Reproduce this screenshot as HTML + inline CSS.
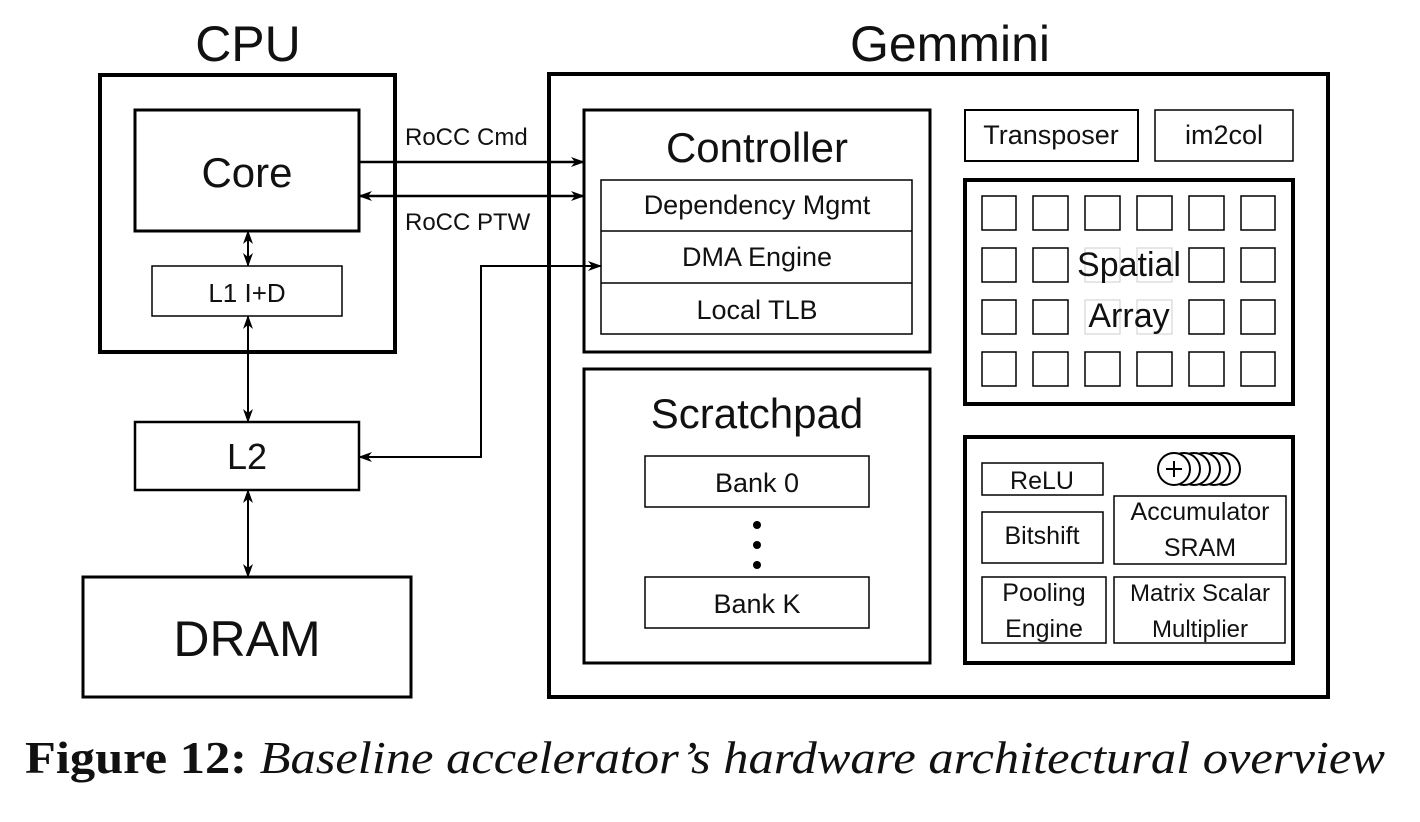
<!DOCTYPE html>
<html><head><meta charset="utf-8"><style>
html,body{margin:0;padding:0;background:#fff;}
svg{display:block;}
text{font-family:"Liberation Sans","DejaVu Sans",sans-serif;fill:#111;}
</style></head><body>
<svg width="1420" height="822" viewBox="0 0 1420 822" xmlns="http://www.w3.org/2000/svg">
<defs>
<marker id="a" markerWidth="14" markerHeight="10" refX="13" refY="5" orient="auto-start-reverse" markerUnits="userSpaceOnUse">
<path d="M0,0 L14,5 L0,10 L4,5 Z" fill="#000"/></marker>
</defs>
<g fill="none" stroke="#000">
<rect x="100" y="75" width="295" height="277" stroke-width="4"/>
<rect x="135" y="110" width="224" height="121" stroke-width="3"/>
<rect x="152" y="266" width="190" height="50" stroke-width="1.5"/>
<rect x="135" y="422" width="224" height="68" stroke-width="2.5"/>
<rect x="83" y="577" width="328" height="120" stroke-width="3"/>
<rect x="549" y="74" width="779" height="623" stroke-width="4"/>
<rect x="584" y="110" width="346" height="242" stroke-width="3"/>
<rect x="601" y="180" width="311" height="154" stroke-width="1.5"/>
<line x1="601" y1="231" x2="912" y2="231" stroke-width="1.5"/>
<line x1="601" y1="283" x2="912" y2="283" stroke-width="1.5"/>
<rect x="584" y="369" width="346" height="294" stroke-width="3"/>
<rect x="645" y="456" width="224" height="51" stroke-width="1.5"/>
<rect x="645" y="577" width="224" height="51" stroke-width="1.5"/>
<rect x="965" y="110" width="173" height="51" stroke-width="2"/>
<rect x="1155" y="110" width="138" height="51" stroke-width="1.5"/>
<rect x="965" y="180" width="328" height="224" stroke-width="4"/>
<rect x="965" y="437" width="328" height="226" stroke-width="4"/>
<rect x="982" y="463" width="121" height="32" stroke-width="1.5"/>
<rect x="982" y="512" width="121" height="51" stroke-width="1.5"/>
<rect x="982" y="577" width="124" height="66" stroke-width="1.5"/>
<rect x="1114" y="496" width="172" height="68" stroke-width="1.5"/>
<rect x="1114" y="577" width="171" height="66" stroke-width="1.5"/>
<g stroke-width="1.5">
<rect x="982" y="196" width="34" height="34"/><rect x="1033" y="196" width="35" height="34"/><rect x="1085" y="196" width="35" height="34"/><rect x="1137" y="196" width="35" height="34"/><rect x="1189" y="196" width="35" height="34"/><rect x="1241" y="196" width="34" height="34"/>
<rect x="982" y="248" width="34" height="34"/><rect x="1033" y="248" width="35" height="34"/><rect x="1189" y="248" width="35" height="34"/><rect x="1241" y="248" width="34" height="34"/>
<rect x="982" y="300" width="34" height="34"/><rect x="1033" y="300" width="35" height="34"/><rect x="1189" y="300" width="35" height="34"/><rect x="1241" y="300" width="34" height="34"/>
<rect x="982" y="352" width="34" height="34"/><rect x="1033" y="352" width="35" height="34"/><rect x="1085" y="352" width="35" height="34"/><rect x="1137" y="352" width="35" height="34"/><rect x="1189" y="352" width="35" height="34"/><rect x="1241" y="352" width="34" height="34"/>
</g>
<g stroke="#ccc" stroke-width="1"><rect x="1085" y="248" width="35" height="34"/><rect x="1137" y="248" width="35" height="34"/><rect x="1085" y="300" width="35" height="34"/><rect x="1137" y="300" width="35" height="34"/></g>
<g stroke-width="2" fill="#fff">
<circle cx="1224" cy="469" r="16"/><circle cx="1214" cy="469" r="16"/><circle cx="1204" cy="469" r="16"/><circle cx="1194" cy="469" r="16"/><circle cx="1184" cy="469" r="16"/><circle cx="1174" cy="469" r="16"/>
</g>
<path d="M1166,469 H1182 M1174,461 V477" stroke-width="2"/>
<g stroke-width="2.5">
<line x1="359" y1="162" x2="584" y2="162" marker-end="url(#a)"/>
<line x1="359" y1="196" x2="584" y2="196" marker-start="url(#a)" marker-end="url(#a)"/>
<polyline points="359,457 481,457 481,266 601,266" marker-start="url(#a)" marker-end="url(#a)" stroke-width="2"/>
<line x1="248" y1="231" x2="248" y2="266" marker-start="url(#a)" marker-end="url(#a)" stroke-width="2"/>
<line x1="248" y1="316" x2="248" y2="422" marker-start="url(#a)" marker-end="url(#a)" stroke-width="2"/>
<line x1="248" y1="490" x2="248" y2="577" marker-start="url(#a)" marker-end="url(#a)" stroke-width="2"/>
</g>
</g>
<g fill="#000"><circle cx="757" cy="525" r="4"/><circle cx="757" cy="545" r="4"/><circle cx="757" cy="565" r="4"/></g>
<g text-anchor="middle">
<text x="248" y="61" font-size="50">CPU</text>
<text x="950" y="61" font-size="50">Gemmini</text>
<text x="247" y="187" font-size="42">Core</text>
<text x="247" y="302" font-size="26">L1 I+D</text>
<text x="247" y="469" font-size="36">L2</text>
<text x="247" y="656" font-size="50">DRAM</text>
<text x="757" y="162" font-size="42">Controller</text>
<text x="757" y="214" font-size="27">Dependency Mgmt</text>
<text x="757" y="266" font-size="27">DMA Engine</text>
<text x="757" y="319" font-size="27">Local TLB</text>
<text x="757" y="428" font-size="42">Scratchpad</text>
<text x="757" y="492" font-size="27">Bank 0</text>
<text x="757" y="613" font-size="27">Bank K</text>
<text x="1051" y="144" font-size="27">Transposer</text>
<text x="1224" y="144" font-size="27">im2col</text>
<text x="1129" y="276" font-size="34">Spatial</text>
<text x="1129" y="327" font-size="34">Array</text>
<text x="1042" y="489" font-size="25">ReLU</text>
<text x="1042" y="544" font-size="25">Bitshift</text>
<text x="1044" y="601" font-size="25">Pooling</text>
<text x="1044" y="637" font-size="25">Engine</text>
<text x="1200" y="520" font-size="25">Accumulator</text>
<text x="1200" y="556" font-size="25">SRAM</text>
<text x="1200" y="601" font-size="24">Matrix Scalar</text>
<text x="1200" y="637" font-size="24">Multiplier</text>
</g>
<text x="405" y="145" font-size="24">RoCC Cmd</text>
<text x="405" y="230" font-size="24">RoCC PTW</text>
<text x="25" y="773" font-size="46" textLength="1360" lengthAdjust="spacingAndGlyphs" style="font-family:'Liberation Serif',serif"><tspan font-weight="bold">Figure 12:</tspan> <tspan font-style="italic">Baseline accelerator’s hardware architectural overview</tspan></text>
</svg>
</body></html>
